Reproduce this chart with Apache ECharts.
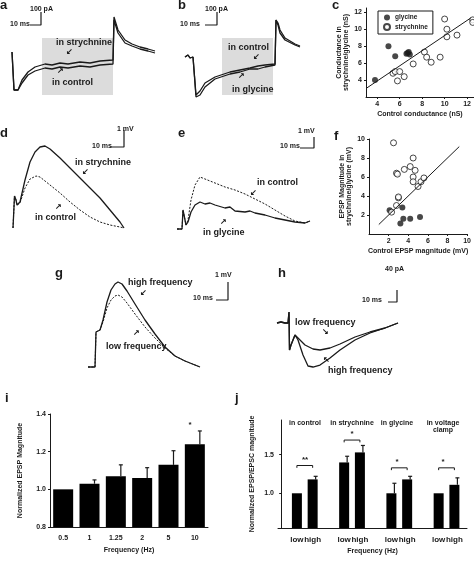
<!doctype html>
<html>
<head>
<meta charset="utf-8">
<script src="https://cdn.jsdelivr.net/npm/echarts@6/dist/echarts.min.js"></script>
<style>
  body{margin:0;padding:0;background:#fff;}
  #main{width:474px;height:578px;}
</style>
</head>
<body>
<div id="main"></div>
<script>
// ---- traces (x: ms-ish, y: relative amplitude 0..100 of each panel) ----
var aStrych = [[2,53],[3,53],[4,15],[8,15],[12,25],[18,33],[25,38],[35,41],[42,40],[50,42],[58,41],[70,43],[80,42],[90,44],[103,45],[104,88],[106,88],[108,75],[115,65],[122,61],[130,58],[138,56],[145,54]];
var aControl = [[2,53],[3,53],[4,15],[8,15],[12,22],[18,30],[25,34],[35,37],[42,36],[50,38],[58,37],[70,39],[80,38],[90,40],[103,41],[104,85],[106,85],[108,72],[115,62],[122,59],[130,56],[138,54],[145,52]];
var bControl = [[5,48],[8,50],[10,47],[13,48],[15,46],[16,10],[18,8],[20,14],[25,22],[35,28],[50,33],[60,35],[70,37],[78,39],[85,40],[95,41],[96,85],[98,80],[100,72],[105,65],[115,60],[120,58]];
var bGlycine = [[5,48],[8,50],[10,47],[13,48],[15,46],[16,8],[18,6],[20,10],[25,18],[35,26],[50,31],[60,33],[70,36],[78,36],[85,38],[95,40],[96,85],[98,82],[100,75],[105,67],[115,61],[120,59]];
var dStrych = [[3,2],[4,2],[4.5,34],[5,34],[6,30],[7,25],[8,24],[10,28],[15,50],[20,68],[25,78],[30,83],[35,84],[40,81],[50,72],[60,62],[70,52],[80,42],[90,32],[100,20],[110,8],[114,2]];
var dControl = [[3,2],[4,2],[4.5,34],[5,34],[6,30],[7,25],[8,24],[10,27],[15,42],[20,51],[26,54],[30,53],[40,45],[50,37],[60,28],[70,20],[80,13],[90,8],[100,5],[110,3],[114,2]];
var eControl = [[2,1],[7,1],[8,20],[9,18],[11,5],[13,10],[16,30],[20,45],[25,53],[30,51],[40,47],[50,43],[60,40],[70,36],[80,31],[90,26],[100,20],[110,14],[120,9],[130,7],[135,9]];
var eGlycine = [[2,1],[7,1],[8,20],[9,18],[11,5],[13,8],[16,18],[20,25],[25,28],[30,26],[35,27],[40,25],[50,22],[55,23],[60,19],[70,18],[75,19],[80,17],[90,15],[100,12],[110,10],[120,8],[130,7],[135,9]];
var gHigh = [[3,3],[10,3],[11,38],[12,40],[13,38],[15,40],[18,50],[22,68],[26,80],[30,86],[33,88],[37,86],[42,79],[50,66],[60,50],[70,36],[80,23],[90,14],[100,9],[110,5],[115,3]];
var gLow = [[3,3],[10,3],[11,38],[12,40],[13,38],[15,40],[18,48],[22,62],[26,70],[30,74],[33,75],[37,73],[42,67],[50,56],[60,43],[70,32],[80,22],[90,14],[100,9],[110,5],[115,3]];
var hLow = [[2,67],[6,68],[10,67],[13,67],[14,78],[14.5,40],[16,45],[20,55],[23,52],[30,45],[38,41],[45,40],[55,42],[65,46],[80,53],[95,58],[110,62],[123,67]];
var hHigh = [[2,67],[6,68],[10,67],[13,67],[14,78],[14.5,40],[16,45],[20,55],[23,50],[28,35],[33,24],[38,23],[45,25],[55,32],[65,40],[80,50],[95,57],[110,62],[123,67]];

// scale bars [horizontal start, corner, vertical end]
var barA = [[20,80],[31,80],[31,93]];
var barB = [[25,80],[37,80],[37,93]];
var barD = [[100,83],[114,83],[114,100]];
var barE = [[125,82],[139,82],[139,93]];
var barG = [[131,70],[143,70],[143,88]];
var barH = [[113,88],[122,88],[122,100]];

// ---- scatter c ----
var cGly = [[3.8,4],[5,8],[5.6,6.8],[6.6,7.1],[6.8,7.3],[6.9,7],[6.7,7.2]];
var cStr = [[5.4,4.8],[5.6,5],[6,5],[5.8,3.9],[6.4,4.4],[7.2,5.9],[8.2,7.3],[8.4,6.7],[8.8,6.1],[9.6,6.7],[10,11.2],[10.2,10],[10.2,9.1],[11.1,9.3],[12.5,11.1],[12.5,10.8]];
var cLine = [[3,3],[12.3,11.3]];
// ---- scatter f ----
var fGly = [[2.1,2.5],[3.4,2.8],[3.5,1.6],[3.2,1.1],[4.2,1.6],[5.2,1.8]];
var fStr = [[2.5,9.6],[2.8,6.4],[2.9,6.3],[3,3.8],[3,3.9],[2.8,3],[2.3,2.3],[3.6,6.8],[4.2,7.1],[4.5,8],[4.5,6],[4.5,5.5],[4.7,6.7],[5,5],[5.3,5.5],[5.6,5.9]];
var fLine = [[1,1],[9.2,9.2]];

// ---- bars i ----
var iFreq = ['0.5','1','1.25','2','5','10'];
var iMean = [1.0,1.03,1.07,1.06,1.13,1.24];
var iTop  = [null,1.05,1.13,1.115,1.205,1.31];
// ---- bars j ----
var jPos  = [1,2,4,5,7,8,10,11];
var jLab  = ['low','high','low','high','low','high','low','high'];
var jMean = [1.0,1.18,1.40,1.53,1.0,1.18,1.0,1.11];
var jTop  = [null,1.22,1.48,1.62,1.13,1.22,null,1.20];
var jBrk  = [1.36,1.69,1.33,1.33];

var FONT = 'Liberation Sans';
var INK = '#1a1a1a';

function hid(min, max){ return {type:'value', min:min, max:max, show:false}; }
function trace(idx, data, dashed){
  return {type:'line', xAxisIndex:idx, yAxisIndex:idx, data:data, symbol:'none', silent:true,
    lineStyle:{color:INK, width:dashed?1:1.3, type:dashed?[2,1.5]:'solid'}};
}
function sbar(idx, data){
  return {type:'line', xAxisIndex:idx, yAxisIndex:idx, data:data, symbol:'none', silent:true,
    lineStyle:{color:INK, width:1.2}};
}
function errItem(params, api){
  var x = api.value(0), lo = api.value(1), hi = api.value(2);
  if (hi == null || isNaN(hi)) return null;
  var p0 = api.coord([x, lo]), p1 = api.coord([x, hi]);
  var dx = params.seriesName === 'ei' ? 5 : 3;
  return {type:'group', children:[
    {type:'line', shape:{x1:p0[0]+dx, y1:p0[1], x2:p1[0]+dx, y2:p1[1]}, style:{stroke:INK, lineWidth:1.2}},
    {type:'line', shape:{x1:p1[0]+dx-2, y1:p1[1], x2:p1[0]+dx+2, y2:p1[1]}, style:{stroke:INK, lineWidth:1.2}}
  ]};
}
function axisBase(){
  return {
    axisLine:{show:true, lineStyle:{color:INK, width:1}},
    axisTick:{show:true, length:2, lineStyle:{color:INK}},
    splitLine:{show:false},
    axisLabel:{color:INK, fontFamily:FONT, fontWeight:'bold', fontSize:7, margin:4},
    nameTextStyle:{color:INK, fontFamily:FONT, fontWeight:'bold', fontSize:7},
    nameLocation:'middle'
  };
}
function ax(extra){ return Object.assign(axisBase(), extra); }

var grids = [
  {left:10, top:5, width:150, height:100},
  {left:180, top:5, width:120, height:100},
  {left:366, top:8, width:108, height:89},
  {left:10, top:130, width:120, height:100},
  {left:175, top:130, width:140, height:100},
  {left:369, top:139, width:103, height:95},
  {left:85, top:270, width:145, height:100},
  {left:275, top:290, width:130, height:100},
  {left:50, top:414, width:158, height:113},
  {left:278, top:420, width:189, height:108}
];

var ticks5 = [4,6,8,10,12];
var xAxes = [
  hid(0,150), hid(0,120),
  ax({type:'value', min:3, max:12.6, name:'Control conductance (nS)', nameGap:14,
      axisLabel:Object.assign(axisBase().axisLabel,{customValues:ticks5}), axisTick:{show:true,length:2,customValues:ticks5,lineStyle:{color:INK}}}),
  hid(0,120), hid(0,140),
  ax({type:'value', min:0, max:10, name:'Control EPSP magnitude (mV)', nameGap:14,
      axisLabel:Object.assign(axisBase().axisLabel,{customValues:[2,4,6,8,10]}), axisTick:{show:true,length:2,customValues:[2,4,6,8,10],lineStyle:{color:INK}}}),
  hid(0,145), hid(0,130),
  ax({type:'category', data:iFreq, name:'Frequency (Hz)', nameGap:20, axisTick:{show:false},
      axisLabel:Object.assign(axisBase().axisLabel,{margin:8})}),
  ax({type:'value', min:-0.2, max:11.8, name:'Frequency (Hz)', nameGap:20,
      axisTick:{show:false},
      axisLabel:Object.assign(axisBase().axisLabel,{margin:8, customValues:jPos, fontSize:8,
        formatter:function(v){ var k = jPos.indexOf(Math.round(v)); return k < 0 ? '' : jLab[k]; }})})
];
xAxes.forEach(function(a,i){ a.gridIndex = i; });

var yAxes = [
  hid(0,100), hid(0,100),
  ax({type:'value', min:2, max:12.5, name:'Conductance in\nstrychnine/glycine (nS)', nameGap:16,
      axisLabel:Object.assign(axisBase().axisLabel,{customValues:ticks5}), axisTick:{show:true,length:2,customValues:ticks5,lineStyle:{color:INK}}}),
  hid(0,100), hid(0,100),
  ax({type:'value', min:0, max:10, name:'EPSP Magnitude in\nstrychnine/glycine (mV)', nameGap:16,
      axisLabel:Object.assign(axisBase().axisLabel,{customValues:[2,4,6,8,10]}), axisTick:{show:true,length:2,customValues:[2,4,6,8,10],lineStyle:{color:INK}}}),
  hid(0,100), hid(0,100),
  ax({type:'value', min:0.8, max:1.4, interval:0.2, name:'Normalized EPSP Magnitude', nameGap:26,
      axisLabel:Object.assign(axisBase().axisLabel,{formatter:function(v){return v.toFixed(1);}})}),
  ax({type:'value', min:0.55, max:1.95, name:'Normalized EPSP/EPSC magnitude', nameGap:22,
      axisLabel:Object.assign(axisBase().axisLabel,{customValues:[1.0,1.5], formatter:function(v){return v.toFixed(1);}}),
      axisTick:{show:true,length:2,customValues:[1.0,1.5],lineStyle:{color:INK}}})
];
yAxes.forEach(function(a,i){ a.gridIndex = i; });

var series = [
  trace(0,aStrych), trace(0,aControl), sbar(0,barA),
  trace(1,bControl), trace(1,bGlycine), sbar(1,barB),
  trace(3,dStrych), trace(3,dControl,true), sbar(3,barD),
  trace(4,eControl,true), trace(4,eGlycine), sbar(4,barE),
  trace(6,gHigh), trace(6,gLow,true), sbar(6,barG),
  trace(7,hLow), trace(7,hHigh), sbar(7,barH),
  {type:'line', xAxisIndex:2, yAxisIndex:2, data:cLine, symbol:'none', silent:true, lineStyle:{color:INK,width:1}},
  {type:'line', xAxisIndex:5, yAxisIndex:5, data:fLine, symbol:'none', silent:true, lineStyle:{color:INK,width:1}},
  {name:'glycine', type:'scatter', xAxisIndex:2, yAxisIndex:2, data:cGly, symbolSize:6, itemStyle:{color:INK}},
  {name:'strychnine', type:'scatter', xAxisIndex:2, yAxisIndex:2, data:cStr, symbolSize:6, itemStyle:{color:'#fff', borderColor:INK, borderWidth:1}},
  {name:'glycine', type:'scatter', xAxisIndex:5, yAxisIndex:5, data:fGly, symbolSize:6, itemStyle:{color:INK}},
  {name:'strychnine', type:'scatter', xAxisIndex:5, yAxisIndex:5, data:fStr, symbolSize:6, itemStyle:{color:'#fff', borderColor:INK, borderWidth:1}},
  {type:'bar', xAxisIndex:8, yAxisIndex:8, data:iMean, barWidth:20, itemStyle:{color:'#000'}},
  {name:'ei', type:'custom', xAxisIndex:8, yAxisIndex:8, renderItem:errItem,
    data:iMean.map(function(m,k){ return [k, m, iTop[k]]; })},
  {type:'bar', xAxisIndex:9, yAxisIndex:9, data:jPos.map(function(p,k){ return [p, jMean[k]]; }), barWidth:10, itemStyle:{color:'#000'}},
  {name:'ej', type:'custom', xAxisIndex:9, yAxisIndex:9, renderItem:errItem,
    data:jPos.map(function(p,k){ return [p, jMean[k], jTop[k]]; })}
];
// significance brackets in j
jBrk.forEach(function(y,g){
  var a = jPos[g*2], b = jPos[g*2+1];
  series.push({type:'line', xAxisIndex:9, yAxisIndex:9, symbol:'none', silent:true,
    data:[[a,y-0.03],[a,y],[b,y],[b,y-0.03]], lineStyle:{color:INK,width:1}});
});
// shaded windows a, b
series[0].markArea = {silent:true, itemStyle:{color:'#dcdcdc'}, data:[[{coord:[32,10]},{coord:[103,67]}]]};
series[3].markArea = {silent:true, itemStyle:{color:'#dcdcdc'}, data:[[{coord:[42,10]},{coord:[93,67]}]]};

function T(text, x, y, size, align){
  return {type:'text', x:x, y:y, z:50, style:{text:text, fill:INK, font:'bold '+(size||8)+'px '+FONT, textAlign:align||'left'}};
}
var graphic = [
  T('a',0,-1,13), T('100 pA',30,6,7), T('10 ms',10,21,7), T('in strychnine',56,38,9), T('in control',52,78,9), T('↙',66,48,8), T('↗',57,67,8),
  T('b',178,-1,13), T('100 pA',205,6,7), T('10 ms',180,21,7), T('in control',228,43,9), T('in glycine',232,85,9), T('↙',253,53,8), T('↗',238,72,8),
  T('c',332,-1,13),
  T('d',0,127,13), T('1 mV',117,126,7), T('10 ms',92,143,7), T('in strychnine',75,158,9), T('in control',35,213,9), T('↙',82,168,8), T('↗',55,203,8),
  T('e',178,127,13), T('1 mV',298,128,7), T('10 ms',280,143,7), T('in control',257,178,9), T('↙',250,189,8), T('in glycine',203,228,9), T('↗',220,218,8),
  T('f',334,130,13),
  T('g',55,267,13), T('1 mV',215,272,7), T('10 ms',193,295,7), T('high frequency',128,278,9), T('↙',140,289,8), T('low frequency',106,342,9), T('↗',133,329,8),
  T('h',278,267,13), T('40 pA',385,266,7), T('10 ms',362,297,7), T('low frequency',295,318,9), T('↘',322,328,8), T('high frequency',328,366,9), T('↖',323,356,8),
  T('i',5,392,13), T('*',190,421,8,'center'),
  T('j',235,392,13),
  T('in control',305,420,7,'center'), T('in strychnine',352,420,7,'center'), T('in glycine',397,420,7,'center'),
  T('in voltage\nclamp',443,420,7,'center'),
  T('**',305,456,8,'center'), T('*',352,430,8,'center'), T('*',397,458,8,'center'), T('*',443,458,8,'center')
];

var chart = echarts.init(document.getElementById('main'), null, {renderer:'canvas'});
chart.setOption({
  animation:false,
  backgroundColor:'#fff',
  textStyle:{fontFamily:FONT},
  grid:grids,
  xAxis:xAxes,
  yAxis:yAxes,
  legend:{data:['glycine','strychnine'], orient:'vertical', left:378, top:11, itemWidth:6, itemHeight:6, itemGap:2,
    padding:[3,5], borderColor:INK, borderWidth:1, selectedMode:false,
    textStyle:{fontFamily:FONT, fontWeight:'bold', fontSize:6.5, color:INK}},
  series:series,
  graphic:graphic
});
</script>
</body>
</html>
